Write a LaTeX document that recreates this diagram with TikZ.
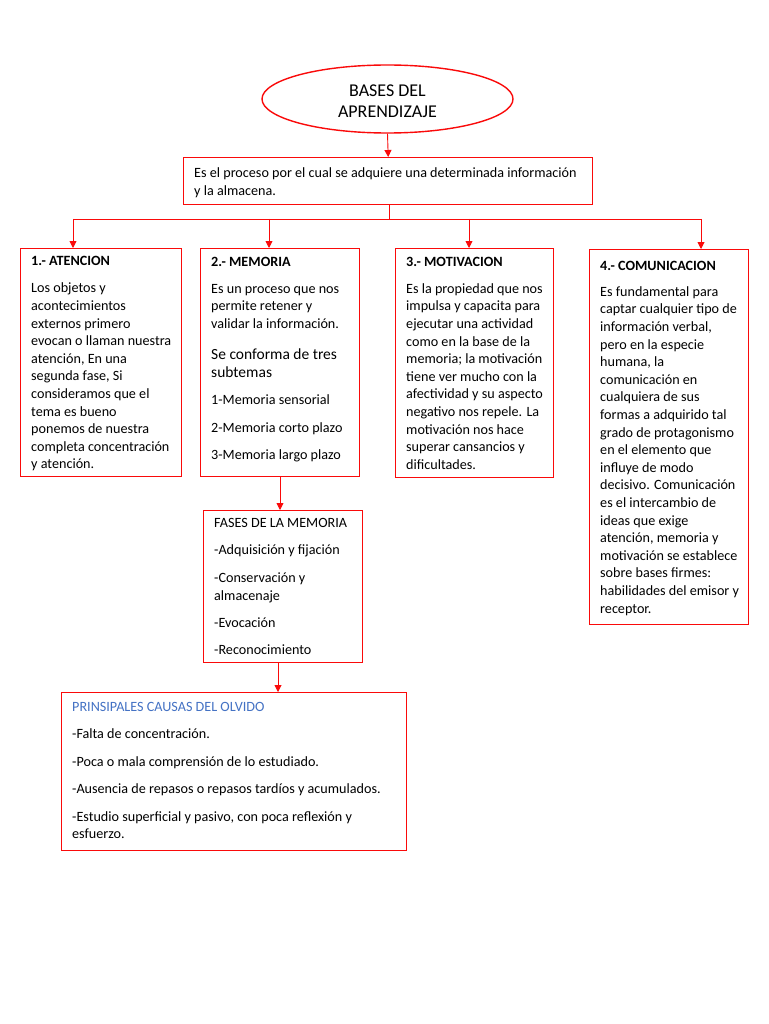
\documentclass[tikz,border=0pt]{standalone}
\usepackage{fontspec}
\setmainfont{Carlito}
\usetikzlibrary{shapes.geometric,arrows.meta}

\definecolor{rojo}{RGB}{250,10,10}
\definecolor{azul}{RGB}{68,114,196}
\newcommand{\texto}{\fontsize{14.15}{17.6}\selectfont}
\newcommand{\grande}{\fontsize{15.5}{19}\selectfont}
\newcommand{\titular}{\fontsize{18}{21.5}\selectfont}

\tikzset{
  caja/.style={draw=rojo, line width=1.4pt, anchor=north west, align=flush left,
    inner xsep=10.5pt, inner ysep=0pt, font=\texto,
    execute at begin node={\rightskip=-8pt plus 1fil}},
  flecha/.style={draw=rojo, line width=0.9pt, -{Triangle[width=7pt,length=7pt]}},
  linea/.style={draw=rojo, line width=0.9pt},
}

\begin{document}
\begin{tikzpicture}[x=1pt, y=-1pt]
    \fill[white] (0,0) rectangle (768,1024);
    \useasboundingbox (0,0) rectangle (768,1024);

    \node[ellipse, draw=rojo, line width=1.4pt, minimum width=251pt, minimum height=68pt,
      inner sep=0pt, align=center, font=\titular, text height=39.6pt, text depth=2pt]
      (titulo) at (387.5,99) {BASES DEL\\APRENDIZAJE};
    \node[caja, text width=388pt, text height=20pt, text depth=27pt] (intro) at (183,157)
      {Es el proceso por el cual se adquiere una determinada información\\y la almacena.};

    \node[caja, text width=140pt, text height=17pt, text depth=211pt] (atencion) at (20,248)
      {\textbf{1.- ATENCION}\\[9.5pt]
       Los objetos y\\acontecimientos\\externos primero\\evocan o llaman nuestra\\atención, En una\\segunda fase, Si\\consideramos que el\\tema es bueno\\ponemos de nuestra\\completa concentración\\y atención.};
    \node[caja, text width=138pt, text height=17.5pt, text depth=210.5pt] (memoria) at (200,248)
      {\textbf{2.- MEMORIA}\\[9.5pt]
       Es un proceso que nos\\permite retener y\\validar la información.\\[12pt]
       {\grande Se conforma de tres\\[0.5pt]subtemas}\\[9.5pt]
       1-Memoria sensorial\\[10pt]2-Memoria corto plazo\\[10pt]3-Memoria largo plazo};
    \node[caja, text width=137pt, text height=17.5pt, text depth=211.5pt] (motivacion) at (395,248)
      {\textbf{3.- MOTIVACION}\\[9.5pt]
       Es la propiedad que nos\\impulsa y capacita para\\ejecutar una actividad\\como en la base de la\\memoria; la motivación\\tiene ver mucho con la\\afectividad y su aspecto\\negativo nos repele. La\\motivación nos hace\\superar cansancios y\\dificultades.};
    \node[caja, text width=138pt, text height=20.5pt, text depth=354.5pt] (comunicacion) at (589,249)
      {\textbf{4.- COMUNICACION}\\[8.5pt]
       Es fundamental para\\captar cualquier tipo de\\información verbal,\\pero en la especie\\humana, la\\comunicación en\\cualquiera de sus\\formas a adquirido tal\\grado de protagonismo\\en el elemento que\\influye de modo\\decisivo. Comunicación\\es el intercambio de\\ideas que exige\\atención, memoria y\\motivación se establece\\sobre bases firmes:\\habilidades del emisor y\\receptor.};

    \node[caja, text width=138pt, text height=16.5pt, text depth=135.5pt] (fases) at (203,510)
      {FASES DE LA MEMORIA\\[10pt]
       -Adquisición y fijación\\[10pt]-Conservación y\\almacenaje\\[9.5pt]-Evocación\\[9.5pt]-Reconocimiento};
    \node[caja, text width=324pt, text height=18.5pt, text depth=139.5pt] (causas) at (61,692)
      {\textcolor{azul}{PRINSIPALES CAUSAS DEL OLVIDO}\\[10pt]
       -Falta de concentración.\\[10pt]-Poca o mala comprensión de lo estudiado.\\[9.5pt]-Ausencia de repasos o repasos tardíos y acumulados.\\[10pt]-Estudio superficial y pasivo, con poca reflexión y\\esfuerzo.};

    % ramas
    \coordinate (rama) at (389,219);
    \draw[flecha] (titulo.south) -- (intro.north);
    \draw[linea] (intro.south -| rama) -- (rama);
    \draw[linea] ([xshift=53pt]atencion.north west |- rama) -- ([xshift=112pt]comunicacion.north west |- rama);
    \draw[flecha] ([xshift=53pt]atencion.north west |- rama) -- ([xshift=53pt]atencion.north west);
    \draw[flecha] ([xshift=69pt]memoria.north west |- rama) -- ([xshift=69pt]memoria.north west);
    \draw[flecha] ([xshift=74pt]motivacion.north west |- rama) -- ([xshift=74pt]motivacion.north west);
    \draw[flecha] ([xshift=112pt]comunicacion.north west |- rama) -- ([xshift=112pt]comunicacion.north west);
    \draw[flecha] ([xshift=80pt]memoria.south west) -- ([xshift=80pt]memoria.south west |- fases.north);
    \draw[flecha] ([xshift=75pt]fases.south west) -- ([xshift=75pt]fases.south west |- causas.north);
\end{tikzpicture}
\end{document}
